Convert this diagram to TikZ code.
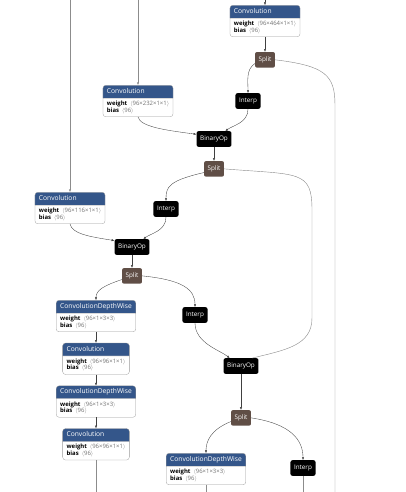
\documentclass[tikz,border=0pt]{standalone}
\usepackage{fontspec}
\setmainfont{Open Sans}
\usepackage{tikz}
\usetikzlibrary{positioning,arrows.meta,shapes.multipart}
\usepackage{xcolor}

\definecolor{layerblue}{RGB}{52,86,138}
\definecolor{shapebrown}{RGB}{96,78,70}

% weight/bias rows of a layer node
\newcommand{\wb}[1]{\begin{tabular}{@{}l@{}}
  \textbf{weight}\enspace\textcolor{black!55}{$\langle$#1$\rangle$}\\
  \textbf{bias}\enspace\textcolor{black!55}{$\langle$96$\rangle$}
  \end{tabular}}

\begin{document}
\begin{tikzpicture}[
  x=0.05cm, y=-0.05cm,
  layer/.style={rectangle split, rectangle split parts=2, draw=black!40,
                rounded corners=1.5mm, rectangle split part fill={layerblue,white},
                rectangle split part align={left}, inner xsep=2mm, inner ysep=3.5pt,
                font=\fontsize{8.5}{9.5}\selectfont},
  opbox/.style={fill=black, text=white, rounded corners=1mm, minimum height=0.78cm,
                inner xsep=1.8mm, font=\fontsize{9}{10}\selectfont},
  splitbox/.style={opbox, fill=shapebrown},
  arr/.style={-{Latex[length=1.4mm,width=1.1mm]}, draw=black!75, line width=0.5pt},
  feed/.style={draw=black!45, line width=0.6pt},
  ]
  \useasboundingbox (0,0) rectangle (405,492);

  % left column of layers
  \node[layer] (convA) at (265,21)
    {\textcolor{white}{\fontsize{9.5}{11}\selectfont\strut Convolution}\nodepart{two}\wb{96×464×1×1}};
  \node[splitbox, below=0.75cm of convA] (splitA) {Split};
  \node[opbox] (interpA) at (248,101) {Interp};
  \node[layer] (convB) at (138,101)
    {\textcolor{white}{\fontsize{9.5}{11}\selectfont\strut Convolution}\nodepart{two}\wb{96×232×1×1}};
  \node[opbox] (binA) at (214,139) {BinaryOp};
  \node[splitbox, below=0.7cm of binA] (splitB) {Split};
  \node[opbox] (interpB) at (166,209) {Interp};
  \node[layer] (convC) at (70,208)
    {\textcolor{white}{\fontsize{9.5}{11}\selectfont\strut Convolution}\nodepart{two}\wb{96×116×1×1}};
  \node[opbox] (binB) at (132,247) {BinaryOp};
  \node[splitbox, below=0.65cm of binB] (splitC) {Split};
  \node[layer] (dwA) at (96,316)
    {\textcolor{white}{\fontsize{9.5}{11}\selectfont\strut ConvolutionDepthWise}\nodepart{two}\wb{96×1×3×3}};
  \node[layer, below=0.55cm of dwA] (convD)
    {\textcolor{white}{\fontsize{9.5}{11}\selectfont\strut Convolution}\nodepart{two}\wb{96×96×1×1}};
  \node[layer, below=0.55cm of convD] (dwB)
    {\textcolor{white}{\fontsize{9.5}{11}\selectfont\strut ConvolutionDepthWise}\nodepart{two}\wb{96×1×3×3}};
  \node[layer, below=0.55cm of dwB] (convE)
    {\textcolor{white}{\fontsize{9.5}{11}\selectfont\strut Convolution}\nodepart{two}\wb{96×96×1×1}};
  \node[opbox] (interpC) at (195,315) {Interp};
  \node[opbox] (binC) at (241,366) {BinaryOp};
  \node[splitbox, below=1.8cm of binC] (splitD) {Split};
  \node[layer] (dwC) at (206,469)
    {\textcolor{white}{\fontsize{9.5}{11}\selectfont\strut ConvolutionDepthWise}\nodepart{two}\wb{96×1×3×3}};
  \node[opbox] (interpD) at (303,468) {Interp};

  % loose ends at the border
  \coordinate (inA) at (265,0);
  \coordinate (inB) at (138,0);
  \coordinate (inC) at (70,0);
  \coordinate (bendA) at (335,105);
  \coordinate (outA) at (335,492);
  \coordinate (bendB) at (312,210);
  \coordinate (bendC) at (312,318);
  \coordinate (outB) at (96,492);
  \coordinate (outC) at (206,492);
  \coordinate (outD) at (303,492);

  \draw[arr] (inA) -- (convA);
  \draw[arr, feed] (inB) -- (convB);
  \draw[arr, feed] (inC) -- (convC);

  \draw[arr] (convA) -- (splitA);
  \draw[arr] (splitA.200) .. controls +(-9,6) and +(0,-12) .. (interpA.north);
  \draw[feed] (splitA.east) .. controls +(50,6) and +(0,-30) .. (bendA) -- (outA);
  \draw[arr] (convB.south) .. controls +(2,10) and +(-30,-4) .. (binA.165);
  \draw[arr] (interpA.south) .. controls +(0,14) and +(8,-6) .. (binA.35);
  \draw[arr] (binA) -- (splitB);
  \draw[arr] (splitB.200) .. controls +(-35,8) and +(0,-14) .. (interpB.north);
  \draw[feed] (splitB.east) .. controls +(75,6) and +(0,-40) .. (bendB) -- (bendC)
        .. controls +(0,28) and +(32,-8) .. (binC.35);
  \draw[arr] (convC.south) .. controls +(2,10) and +(-25,-4) .. (binB.160);
  \draw[arr] (interpB.south) .. controls +(0,14) and +(8,-6) .. (binB.35);
  \draw[arr] (binB) -- (splitC);
  \draw[arr] (splitC.200) .. controls +(-18,6) and +(0,-10) .. (dwA.north);
  \draw[arr] (splitC.east) .. controls +(40,4) and +(0,-18) .. (interpC.north);
  \draw[arr] (interpC.south) .. controls +(0,20) and +(-10,-8) .. (binC.145);
  \draw[arr] (dwA) -- (convD);
  \draw[arr] (convD) -- (dwB);
  \draw[arr] (dwB) -- (convE);
  \draw[feed] (convE) -- (outB);
  \draw[arr] (binC) -- (splitD);
  \draw[arr] (splitD.200) .. controls +(-20,8) and +(0,-12) .. (dwC.north);
  \draw[arr] (splitD.east) .. controls +(40,6) and +(0,-20) .. (interpD.north);
  \draw[feed] (dwC) -- (outC);
  \draw[feed] (interpD) -- (outD);
\end{tikzpicture}
\end{document}
